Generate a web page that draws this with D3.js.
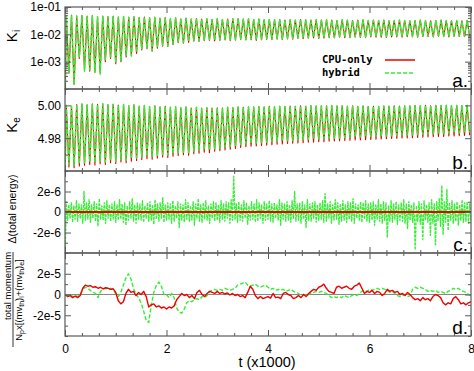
<!DOCTYPE html>
<html><head><meta charset="utf-8">
<script src="https://cdn.jsdelivr.net/npm/d3@7"></script>
<style>
body{margin:0;background:#fff}
svg{display:block}
text{font-family:"Liberation Sans",Arial,sans-serif;fill:#000}
</style></head>
<body><svg id="chart" width="474" height="371"></svg>
<script>
// ---------------- DATA ----------------
const seriesNames = ["CPU-only", "hybrid"];
const panelLetters = ["a.", "b.", "c.", "d."];
const xTickValues = [0, 2, 4, 6, 8];
const kiTickValues = [1e-1, 1e-2, 1e-3];
const keTickValues = [5.00, 4.98];
const dETickValues = [2e-6, 0, -2e-6];
const momTickValues = [2e-5, 0, -2e-5];
const tMax = 8;

// panel a/b: per-cycle extremes (78 oscillation cycles), t in units of 1000
const cycleCount = 78;
const kiStart = 1e-5;
const kiMax = [0.048,0.050,0.047,0.049,0.046,0.048,0.045,0.047,0.044,0.046,
  0.043,0.045,0.042,0.044,0.041,0.043,0.040,0.042,0.039,0.041,
  0.038,0.040,0.037,0.039,0.036,0.038,0.036,0.037,0.035,0.037,
  0.035,0.036,0.037,0.038,0.036,0.037,0.035,0.036,0.034,0.035,
  0.034,0.035,0.033,0.034,0.033,0.035,0.034,0.033,0.034,0.033,
  0.034,0.033,0.032,0.034,0.033,0.032,0.033,0.034,0.032,0.033,
  0.032,0.033,0.031,0.032,0.033,0.032,0.031,0.032,0.033,0.032,
  0.031,0.032,0.033,0.032,0.031,0.032,0.031,0.032];
const kiMinHybrid = [0.0004,0.00014,0.0015,0.00045,0.0005,0.0004,0.00035,0.0012,0.0015,0.0009,
  0.0011,0.0017,0.0016,0.0022,0.003,0.0032,0.0025,0.0035,0.004,0.0038,
  0.0045,0.0053,0.005,0.0055,0.006,0.0058,0.0062,0.0065,0.006,0.0063,
  0.0066,0.0062,0.0064,0.0068,0.0065,0.0067,0.0063,0.0066,0.0069,0.0067,
  0.007,0.0068,0.0072,0.007,0.0075,0.0073,0.0076,0.0078,0.0074,0.0077,
  0.008,0.0078,0.0082,0.008,0.0079,0.0083,0.0081,0.008,0.0084,0.0082,
  0.0083,0.0081,0.0085,0.0084,0.0082,0.0086,0.0085,0.0083,0.0087,0.0086,
  0.0084,0.0088,0.0086,0.0085,0.0088,0.0087,0.0086,0.0088];
const kiMinCpu = [0.00038,0.00015,0.0013,0.0005,0.00045,0.00042,0.0004,0.001,0.0013,0.00085,
  0.001,0.0015,0.0017,0.002,0.0027,0.003,0.0024,0.0031,0.0037,0.0036,
  0.0042,0.0049,0.0047,0.0051,0.0056,0.0055,0.0058,0.006,0.0057,0.006,
  0.0062,0.0059,0.0061,0.0064,0.0062,0.0063,0.006,0.0063,0.0065,0.0064,
  0.0066,0.0064,0.0068,0.0066,0.0071,0.0069,0.0072,0.0074,0.007,0.0073,
  0.0076,0.0074,0.0078,0.0076,0.0075,0.0079,0.0077,0.0076,0.008,0.0078,
  0.0079,0.0077,0.0081,0.008,0.0078,0.0082,0.0081,0.0079,0.0083,0.0082,
  0.008,0.0084,0.0082,0.0081,0.0084,0.0083,0.0082,0.0084];

const keStart = 4.955;
const keMax = [5.0000,4.9995,5.0005,5.0008,5.0003,5.0009,5.0006,5.0010,5.0004,5.0007,
  5.0002,5.0006,4.9998,5.0003,4.9995,5.0000,4.9993,4.9997,4.9990,4.9994,
  4.9988,4.9992,4.9986,4.9990,4.9984,4.9988,4.9983,4.9986,4.9982,4.9985,
  4.9984,4.9988,4.9986,4.9990,4.9988,4.9992,4.9990,4.9993,4.9991,4.9994,
  4.9992,4.9995,4.9993,4.9996,4.9994,4.9997,4.9995,4.9998,4.9996,4.9998,
  4.9997,4.9999,4.9996,4.9998,4.9995,4.9997,4.9994,4.9996,4.9993,4.9995,
  4.9994,4.9996,4.9995,4.9997,4.9996,4.9998,4.9997,4.9999,4.9998,5.0000,
  4.9998,5.0000,4.9999,5.0001,4.9999,5.0000,4.9998,5.0000];
const keMinHybrid = [4.9640,4.9635,4.9645,4.9650,4.9655,4.9650,4.9660,4.9655,4.9665,4.9660,
  4.9670,4.9665,4.9675,4.9680,4.9685,4.9690,4.9688,4.9695,4.9700,4.9698,
  4.9705,4.9710,4.9715,4.9712,4.9720,4.9725,4.9730,4.9728,4.9735,4.9740,
  4.9745,4.9750,4.9755,4.9760,4.9765,4.9768,4.9770,4.9772,4.9775,4.9778,
  4.9780,4.9782,4.9785,4.9786,4.9788,4.9790,4.9792,4.9793,4.9795,4.9796,
  4.9798,4.9800,4.9801,4.9803,4.9804,4.9806,4.9807,4.9808,4.9810,4.9811,
  4.9812,4.9814,4.9815,4.9816,4.9818,4.9819,4.9820,4.9822,4.9823,4.9824,
  4.9826,4.9827,4.9828,4.9830,4.9831,4.9832,4.9834,4.9835];
const keMinCpu = [4.9625,4.9620,4.9630,4.9635,4.9640,4.9636,4.9645,4.9640,4.9650,4.9646,
  4.9655,4.9650,4.9660,4.9664,4.9670,4.9675,4.9672,4.9680,4.9685,4.9682,
  4.9690,4.9694,4.9700,4.9696,4.9705,4.9709,4.9714,4.9712,4.9720,4.9724,
  4.9729,4.9733,4.9738,4.9743,4.9748,4.9751,4.9753,4.9755,4.9758,4.9761,
  4.9763,4.9765,4.9768,4.9769,4.9771,4.9773,4.9775,4.9776,4.9778,4.9779,
  4.9781,4.9783,4.9784,4.9786,4.9787,4.9789,4.9790,4.9791,4.9793,4.9794,
  4.9795,4.9797,4.9798,4.9799,4.9801,4.9802,4.9803,4.9805,4.9806,4.9807,
  4.9809,4.9810,4.9811,4.9813,4.9814,4.9815,4.9817,4.9818];

// panel c: Δ(total energy), sampled every 0.05 (x1000); hybrid noise upper/lower (units 1e-6)
const sampleStep = 0.05;
const dEHybridHi = [1.0,0.7,0.9,0.6,1.1,0.8,0.7,2.0,0.9,1.2,0.7,1.0,0.8,1.3,0.6,0.9,1.1,0.7,0.8,1.0,
  0.7,1.2,0.8,0.9,0.6,1.0,1.3,0.7,0.9,0.8,1.1,0.6,0.9,1.0,0.7,1.2,0.8,0.9,1.4,0.7,
  0.9,0.8,1.1,0.6,1.0,0.8,0.7,1.2,0.9,0.6,1.0,0.8,1.3,0.7,0.9,1.1,0.6,0.8,1.0,0.9,
  0.7,1.1,0.8,1.0,0.9,1.2,3.5,0.8,1.0,0.7,1.1,0.9,0.6,1.0,0.8,1.2,0.9,0.7,1.0,0.8,
  1.1,0.8,0.9,0.7,1.2,0.9,0.8,1.0,0.7,1.1,2.0,0.8,0.9,1.0,0.7,1.2,0.8,0.9,1.0,0.7,
  0.9,1.1,1.8,0.8,1.0,0.7,1.2,0.9,0.8,1.1,0.7,1.0,0.9,1.3,0.8,0.7,1.0,0.9,1.1,0.8,
  0.9,1.0,0.7,1.2,0.8,1.0,0.9,0.6,1.1,0.8,1.0,0.7,0.9,1.2,0.8,1.0,0.7,0.9,0.6,1.0,
  0.8,1.1,0.7,0.9,1.2,0.8,1.0,1.3,2.6,1.0,2.2,0.9,1.1,0.8,1.0,0.7,1.2,0.9,1.0,0.8,0.9];
const dEHybridLo = [-5,-0.8,-0.6,-1.0,-0.7,-0.9,-0.6,-1.1,-0.8,-0.7,-1.0,-0.6,-0.9,-1.4,-0.7,-0.8,-1.1,-0.6,-0.9,-0.7,
  -1.0,-0.8,-0.7,-1.0,-1.3,-0.8,-0.6,-0.9,-1.1,-0.7,-0.8,-1.0,-0.6,-0.9,-0.8,-1.2,-0.7,-0.9,-0.6,-1.0,
  -0.8,-0.7,-1.1,-0.9,-0.6,-1.5,-0.8,-1.0,-0.7,-0.9,-0.8,-1.3,-0.6,-0.9,-1.0,-0.7,-0.8,-1.1,-0.6,-0.9,
  -0.8,-1.0,-0.7,-0.9,-0.6,-1.1,-0.8,-0.7,-1.0,-0.8,-0.9,-0.6,-1.2,-0.8,-0.7,-1.0,-0.9,-0.6,-1.1,-0.8,
  -0.7,-0.9,-1.0,-0.6,-0.8,-1.3,-0.7,-0.9,-0.8,-1.0,-0.6,-0.9,-0.8,-1.1,-0.7,-1.5,-0.8,-0.9,-0.6,-1.0,
  -0.8,-0.7,-1.0,-0.9,-0.6,-1.1,-0.8,-0.7,-1.2,-0.9,-0.8,-1.0,-0.7,-0.9,-1.1,-0.6,-0.8,-1.0,-0.7,-0.9,
  -1.0,-0.8,-1.3,-0.7,-0.9,-1.1,-0.8,-2.5,-0.9,-1.0,-0.7,-1.2,-0.8,-0.9,-1.1,-1.6,-0.8,-1.0,-3.7,-0.9,
  -1.2,-2.7,-0.8,-1.0,-2.3,-1.1,-3.2,-0.9,-1.4,-2.2,-1.0,-1.8,-0.8,-1.1,-0.9,-1.3,-0.8,-1.0,-0.9,-1.1,-0.8];
const dECpuT = [0, 8];
const dECpu = [0, 0];

// panel d: normalized total momentum, sampled every 0.05 (units 1e-5)
const momCpu = [0.0,-0.2,-0.1,-0.3,-0.15,-0.3,-0.1,0.6,0.9,0.8,0.85,0.7,0.75,0.6,0.7,0.55,0.65,0.6,0.5,0.55,
  0.2,-0.6,-0.9,-0.7,0.1,0.5,0.2,0.3,-0.1,0.2,0.0,0.3,-0.2,-1.2,-1.0,-0.9,-1.2,-1.1,-1.3,-1.2,
  -1.4,-1.2,-1.3,-1.1,-0.5,-0.2,0.1,-0.1,0.0,-0.3,-0.1,-0.4,0.2,0.4,0.0,-0.2,0.1,0.3,0.2,0.1,
  0.3,0.1,0.2,0.05,0.15,-0.05,0.1,-0.1,0.0,-0.2,-0.1,-0.3,0.2,0.8,0.5,-0.1,-0.4,-0.2,-0.4,-0.3,
  -0.2,-0.35,0.1,-0.3,-0.25,-0.4,0.1,0.2,0.0,-0.1,-0.4,-0.3,-0.1,-0.3,0.0,-0.2,0.1,0.3,0.5,0.4,
  0.7,0.8,1.0,0.6,0.3,0.2,0.1,0.7,0.8,0.6,0.7,0.8,0.6,0.5,0.8,0.9,1.1,0.6,0.1,0.3,
  0.2,0.4,0.1,0.3,0.2,-0.1,0.1,0.5,0.3,0.4,0.2,0.3,0.0,0.1,-0.1,0.2,0.0,-0.3,-0.5,-0.4,
  -0.6,-0.3,-0.5,-0.4,-0.6,-0.2,0.0,-0.1,-0.3,-0.8,-1.0,-0.8,-0.9,-0.4,-0.2,-0.5,-0.9,-0.8,-1.0,-0.8,-0.7];
const momHybrid = [0.0,-0.1,0.0,-0.2,-0.1,-0.2,0.0,0.5,0.7,0.6,0.4,0.2,0.1,-0.3,0.3,0.5,0.6,0.5,0.6,0.4,
  0.1,-0.2,0.2,0.9,1.6,2.0,1.5,0.6,0.0,-0.3,-0.8,-1.6,-2.5,-2.7,-1.0,0.2,0.9,1.2,0.8,0.0,
  0.0,-0.3,0.1,-0.3,-1.3,-1.7,-1.8,-1.4,-0.8,-0.6,-0.7,-0.5,-0.4,-0.5,-0.2,-0.3,-0.1,0.3,0.4,0.5,
  0.4,0.5,0.4,0.6,0.5,0.4,0.5,0.6,0.9,1.0,1.1,1.2,0.9,0.8,0.9,1.0,0.8,0.7,0.8,0.9,
  0.7,0.5,0.6,0.4,0.5,0.4,0.5,0.3,0.4,0.5,0.3,0.2,0.1,-0.1,0.0,-0.1,0.0,0.1,0.2,0.3,
  0.2,0.3,0.2,0.1,-0.1,-0.3,-0.2,-0.3,-0.2,-0.3,-0.1,-0.2,-0.3,-0.1,0.0,-0.1,0.1,0.3,0.4,0.3,
  0.5,0.4,0.5,0.6,0.5,0.6,0.5,0.4,0.2,0.3,0.1,-0.1,-0.2,-0.1,0.0,-0.2,-0.1,0.5,0.7,0.6,
  0.7,0.6,0.5,0.3,0.4,0.3,0.4,0.2,0.3,0.2,0.1,0.3,0.4,0.6,0.5,0.6,0.4,0.3,0.2,0.0,-0.1];

// ---------------- DRAW ----------------
const svg = d3.select("#chart");
const C = {red: "#ee0000", green: "#33ee33", frame: "#5a5a5a"};
const x = d3.scaleLinear().domain([0, tMax]).range([65, 471]);
const panels = [
  {y: d3.scaleLog().domain([1e-4, 1e-1]).range([89, 7])},
  {y: d3.scaleLinear().domain([4.96, 5.01]).range([171, 89])},
  {y: d3.scaleLinear().domain([-4e-6, 4e-6]).range([253, 171])},
  {y: d3.scaleLinear().domain([-4e-5, 4e-5]).range([336, 253])}
];

const defs = svg.append("defs");
panels.forEach((p, i) => {
  const [y1, y0] = p.y.range();
  defs.append("clipPath").attr("id", "clip" + i).append("rect")
    .attr("x", x.range()[0]).attr("y", y0).attr("width", x.range()[1] - x.range()[0]).attr("height", y1 - y0);
  p.g = svg.append("g").attr("clip-path", `url(#clip${i})`);
});

const halfStep = tMax / (2 * cycleCount);
function zigzag(start, maxArr, minArr) {
  const pts = [[0, start]];
  for (let k = 0; k < cycleCount; k++) {
    pts.push([(2 * k + 0.5) * halfStep, maxArr[k]]);
    pts.push([(2 * k + 1.5) * halfStep, minArr[k]]);
  }
  return pts;
}
function lineOn(p) { return d3.line().x(d => x(d[0])).y(d => p.y(d[1])); }

function drawSeries(p, pts, color, dash, w) {
  p.g.append("path").datum(pts).attr("fill", "none").attr("stroke", color)
    .attr("stroke-width", w || 1.3).attr("stroke-dasharray", dash || null)
    .attr("stroke-linejoin", "round").attr("d", lineOn(p));
}

drawSeries(panels[0], zigzag(kiStart, kiMax, kiMinCpu), C.red, null, 1.1);
drawSeries(panels[0], zigzag(kiStart, kiMax, kiMinHybrid), C.green, "5,1.5", 1.5);
drawSeries(panels[1], zigzag(keStart, keMax, keMinCpu), C.red, null, 1.1);
drawSeries(panels[1], zigzag(keStart, keMax, keMinHybrid), C.green, "5,1.5", 1.5);
const cPts = [];
dEHybridHi.forEach((h, i) => {
  cPts.push([i * sampleStep, dEHybridLo[i] * 1e-6]);
  cPts.push([(i + 0.5) * sampleStep, h * 1e-6]);
});
drawSeries(panels[2], cPts, C.green, "3,1", 1.3);
drawSeries(panels[2], dECpuT.map((t, i) => [t, dECpu[i]]), C.red, null, 2);
panels[3].g.append("line").attr("x1", x(0)).attr("x2", x(tMax))
  .attr("y1", panels[3].y(0)).attr("y2", panels[3].y(0)).attr("stroke", "#888").attr("stroke-width", 1);
drawSeries(panels[3], momHybrid.map((v, i) => [i * sampleStep, v * 1e-5]), C.green, "4,2", 1.4);
drawSeries(panels[3], momCpu.map((v, i) => [i * sampleStep, v * 1e-5]), C.red, null, 1.4);

// axes
const minorX = d3.range(0, tMax + 1e-9, 1 / 3).filter(v => Math.abs(v / 2 - Math.round(v / 2)) > 1e-6);
const majorLen = 6, minorLen = 3;
function styleAxis(g) {
  g.select(".domain").remove();
  g.selectAll(".tick line").attr("stroke", C.frame).attr("stroke-width", 1);
  g.selectAll(".tick text").attr("font-size", 12).attr("font-family", '"Liberation Sans",Arial,sans-serif');
}
const yTicksMajor = [kiTickValues, keTickValues, dETickValues, momTickValues];
const yTicksMinor = [
  [2,3,4,5,6,7,8,9].flatMap(m => [1e-4, 1e-3, 1e-2].map(d => m * d)),
  [4.96, 4.97, 4.99, 5.01],
  [-3e-6, -1e-6, 1e-6, 3e-6, -4e-6, 4e-6],
  [-3e-5, -1e-5, 1e-5, 3e-5, -4e-5, 4e-5]
];
const yFormats = [
  v => "1e-" + String(Math.round(-Math.log10(v))).padStart(2, "0"),
  v => v.toFixed(2),
  v => v === 0 ? "0" : (v > 0 ? "2e-6" : "-2e-6"),
  v => v === 0 ? "0" : (v > 0 ? "2e-5" : "-2e-5")
];
panels.forEach((p, i) => {
  const [yb, yt] = p.y.range();
  [[yt, d3.axisTop], [yb, d3.axisBottom]].forEach(([yy, ax]) => {
    svg.append("g").attr("transform", `translate(0,${yy})`)
      .call(ax(x).tickValues(xTickValues).tickSizeInner(-majorLen).tickSizeOuter(0).tickFormat(""))
      .call(styleAxis);
    svg.append("g").attr("transform", `translate(0,${yy})`)
      .call(ax(x).tickValues(minorX).tickSizeInner(-minorLen).tickSizeOuter(0).tickFormat(""))
      .call(styleAxis);
  });
  svg.append("g").attr("transform", `translate(${x.range()[0]},0)`)
    .call(d3.axisLeft(p.y).tickValues(yTicksMajor[i]).tickSizeInner(-majorLen).tickSizeOuter(0)
      .tickPadding(4).tickFormat(yFormats[i]))
    .call(styleAxis);
  svg.append("g").attr("transform", `translate(${x.range()[0]},0)`)
    .call(d3.axisLeft(p.y).tickValues(yTicksMinor[i]).tickSizeInner(-minorLen).tickSizeOuter(0).tickFormat(""))
    .call(styleAxis);
  svg.append("g").attr("transform", `translate(${x.range()[1]},0)`)
    .call(d3.axisRight(p.y).tickValues(yTicksMajor[i]).tickSizeInner(-majorLen).tickSizeOuter(0).tickFormat(""))
    .call(styleAxis);
  svg.append("g").attr("transform", `translate(${x.range()[1]},0)`)
    .call(d3.axisRight(p.y).tickValues(yTicksMinor[i]).tickSizeInner(-minorLen).tickSizeOuter(0).tickFormat(""))
    .call(styleAxis);
  svg.append("rect").attr("x", x.range()[0]).attr("y", yt).attr("width", x.range()[1] - x.range()[0])
    .attr("height", yb - yt).attr("fill", "none").attr("stroke", C.frame).attr("stroke-width", 1.2);
  svg.append("text").attr("x", 468).attr("y", yb - 2).attr("text-anchor", "end")
    .attr("font-size", 19).text(panelLetters[i]);
});

svg.append("g").attr("transform", `translate(0,${panels[3].y.range()[0]})`)
  .call(d3.axisBottom(x).tickValues(xTickValues).tickSize(0).tickPadding(8).tickFormat(d3.format("d")))
  .call(styleAxis);
svg.append("text").attr("x", 267).attr("y", 367).attr("text-anchor", "middle")
  .attr("font-size", 14.5).text("t (x1000)");

function rotLabel(cx, cy) {
  return svg.append("text").attr("transform", `translate(${cx},${cy}) rotate(-90)`).attr("text-anchor", "middle");
}
const kiL = rotLabel(17, 36).attr("font-size", 15);
kiL.append("tspan").text("K");
kiL.append("tspan").attr("font-size", 10).attr("dy", 3).text("i");
const keL = rotLabel(17, 125).attr("font-size", 15);
keL.append("tspan").text("K");
keL.append("tspan").attr("font-size", 10).attr("dy", 3).text("e");
rotLabel(16, 209).attr("font-size", 10.5).text("Δ(total energy)");

const frac = svg.append("g").attr("transform", "translate(13,300) rotate(-90)");
frac.append("text").attr("x", 14).attr("y", -2).attr("text-anchor", "middle").attr("font-size", 9.5).text("total momentum");
frac.append("line").attr("x1", -47).attr("x2", 48).attr("y1", 0).attr("y2", 0).attr("stroke", "#000").attr("stroke-width", 0.8);
const den = frac.append("text").attr("x", 0).attr("y", 9).attr("text-anchor", "middle").attr("font-size", 9.5);
den.append("tspan").text("N");
den.append("tspan").attr("font-size", 7).attr("dy", 2).text("p");
den.append("tspan").attr("dy", -2).text("x[(mv");
den.append("tspan").attr("font-size", 7).attr("dy", 2).text("th");
den.append("tspan").attr("dy", -2).text(")");
den.append("tspan").attr("font-size", 7).attr("dy", 2).text("i");
den.append("tspan").attr("dy", -2).text("+(mv");
den.append("tspan").attr("font-size", 7).attr("dy", 2).text("th");
den.append("tspan").attr("dy", -2).text(")");
den.append("tspan").attr("font-size", 7).attr("dy", 2).text("e");
den.append("tspan").attr("dy", -2).text("]");

const legend = svg.append("g");
[[C.red, null, 63, 60], [C.green, "4,2", 76, 73]].forEach(([col, dash, ty, ly], i) => {
  legend.append("text").attr("x", 322).attr("y", ty).attr("font-size", 10.5)
    .style("font-family", '"DejaVu Sans Mono",monospace').style("font-weight", "bold").text(seriesNames[i]);
  legend.append("line").attr("x1", 385).attr("x2", 415).attr("y1", ly).attr("y2", ly)
    .attr("stroke", col).attr("stroke-width", 1.5).attr("stroke-dasharray", dash);
});
</script></body></html>
